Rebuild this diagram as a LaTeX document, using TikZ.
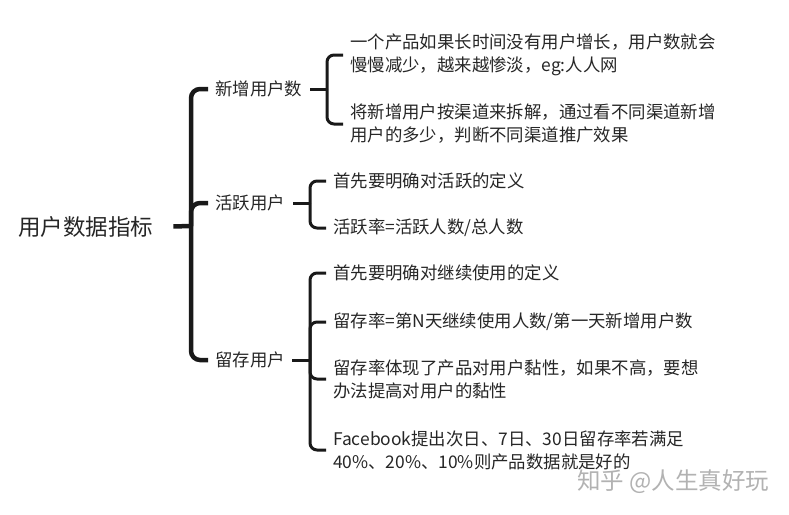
\documentclass[tikz,border=0pt]{standalone}
\usepackage{fontspec}
\setmainfont{Noto Sans CJK SC}
\usetikzlibrary{positioning}

\begin{document}
\begin{tikzpicture}[
    x=1pt,y=-1pt,
    rootnode/.style={
        anchor=west,
        inner sep=0pt,
        text=black!85,
        font=\fontsize{22.5}{26}\selectfont},
    topic/.style={
        anchor=west,
        inner sep=0pt,
        text=black!85,
        font=\fontsize{17.4}{23}\selectfont},
    leaf/.style={
        anchor=west,
        inner sep=0pt,
        align=left,
        text=black!85,
        font=\fontsize{17.4}{23}\selectfont},
    trunk/.style={line width=4.5pt,draw=black!90,rounded corners=9pt},
    twig/.style={line width=3pt,draw=black!90,rounded corners=7pt}
    ]
    \useasboundingbox (0,0) rectangle (789,514);

    \node[rootnode] (root) at (18,227) {用户数据指标};

    \node[topic] (u1) at (215,89) {新增用户数};
    \node[topic] (u2) at (215,203) {活跃用户};
    \node[topic] (u3) at (215,360) {留存用户};

    \node[leaf] (u1a) at (350,55) {一个产品如果长时间没有用户增长，用户数就会\\慢慢减少，越来越惨淡，eg:人人网};
    \node[leaf] (u1b) at (350,124) {将新增用户按渠道来拆解，通过看不同渠道新增\\用户的多少，判断不同渠道推广效果};
    \node[leaf] (u2a) at (333,181) {首先要明确对活跃的定义};
    \node[leaf] (u2b) at (333,228) {活跃率=活跃人数/总人数};
    \node[leaf] (u3a) at (333,273) {首先要明确对继续使用的定义};
    \node[leaf] (u3b) at (333,322) {留存率=第N天继续使用人数/第一天新增用户数};
    \node[leaf] (u3c) at (333,379) {留存率体现了产品对用户黏性，如果不高，要想\\办法提高对用户的黏性};
    \node[leaf] (u3d) at (333,450) {Facebook提出次日、7日、30日留存率若满足\\40\%、20\%、10\%则产品数据就是好的};

    % junction points of the brackets
    \coordinate (j0) at (191,226);
    \coordinate (j1) at (327,89);
    \coordinate (j2) at (310,203);
    \coordinate (j3) at (310,360);

    \draw[trunk,shorten <=20pt] (root.east) -- (j0);
    \foreach \j in {u1,u2,u3}
        \draw[trunk,shorten >=7pt] (j0) |- (\j.west);

    \foreach \i/\j/\gap in {% parent/junction/gap before the stub
        u1/j1/8pt,
        u2/j2/8pt,
        u3/j3/7pt}
        \draw[twig,shorten <=\gap] (\i.east) -- (\j);

    \foreach \i/\j in {j1/u1a,j1/u1b,j2/u2a,j2/u2b,j3/u3a,j3/u3b,j3/u3c,j3/u3d}
        \draw[twig,shorten >=7pt] (\i) |- (\j.west);

    \node[anchor=west,inner sep=0pt,text=black!30,font=\fontsize{23.5}{26}\selectfont] (mark) at (577,482) {知乎 @人生真好玩};
\end{tikzpicture}
\end{document}
